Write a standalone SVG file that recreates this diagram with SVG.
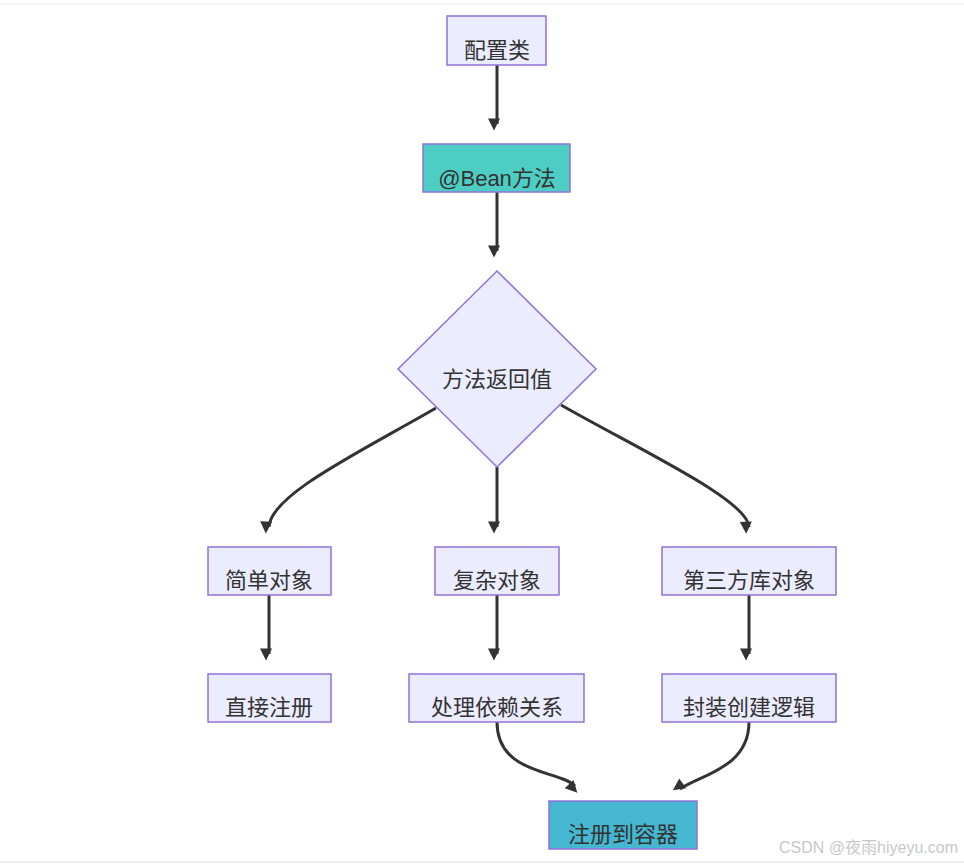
<svg xmlns="http://www.w3.org/2000/svg" width="964" height="864" viewBox="0 0 964 864">
<style>
.n{fill:#ececff;stroke:#9370db;stroke-width:1.5}
.t{font-family:"Liberation Sans","Noto Sans CJK SC",sans-serif;font-size:22px;fill:#333;text-anchor:middle}
.e{fill:none;stroke:#333;stroke-width:3}
</style>
<defs><marker id="a" viewBox="0 0 10 10" refX="9" refY="5" markerWidth="6" markerHeight="6" orient="auto" markerUnits="userSpaceOnUse" overflow="visible"><path d="M0,0L10,5L0,10z" fill="#333" transform="scale(2)" /></marker></defs>
<rect width="964" height="864" fill="#fff"/>
<line x1="0" y1="4" x2="964" y2="4" stroke="#eef0f5" stroke-width="1.5"/>
<line x1="0" y1="862" x2="964" y2="862" stroke="#eef0f5" stroke-width="2"/>
<g id="edges">
<path class="e" d="M497,65V124" marker-end="url(#a)"/>
<path class="e" d="M497,192V251" marker-end="url(#a)"/>
<path class="e" d="M436,408C360,452 270,495 269,527" marker-end="url(#a)"/>
<path class="e" d="M497,467V527" marker-end="url(#a)"/>
<path class="e" d="M561,405C640,450 748,500 749,527" marker-end="url(#a)"/>
<path class="e" d="M269,595V654" marker-end="url(#a)"/>
<path class="e" d="M497,595V654" marker-end="url(#a)"/>
<path class="e" d="M749,595V654" marker-end="url(#a)"/>
<path class="e" d="M497,722C497,775 560,770 575,786" marker-end="url(#a)"/>
<path class="e" d="M749,722C749,768 700,775 680,789" marker-end="url(#a)"/>
</g>
<g id="n1"><rect class="n" x="447" y="16" width="99" height="49"/><text class="t" x="497" y="58">配置类</text></g>
<g id="n2"><rect class="n" x="423" y="144" width="147" height="48" style="fill:#4ecdc4"/><text class="t" x="497" y="186">@Bean方法</text></g>
<g id="n3"><path class="n" d="M497,271L596,369L497,467L398,369z"/><text class="t" x="497" y="387">方法返回值</text></g>
<g id="n4"><rect class="n" x="208" y="547" width="123" height="48"/><text class="t" x="269" y="588">简单对象</text></g>
<g id="n5"><rect class="n" x="435" y="547" width="124" height="48"/><text class="t" x="497" y="588">复杂对象</text></g>
<g id="n6"><rect class="n" x="662" y="547" width="174" height="48"/><text class="t" x="749" y="588">第三方库对象</text></g>
<g id="n7"><rect class="n" x="208" y="674" width="123" height="48"/><text class="t" x="269" y="715">直接注册</text></g>
<g id="n8"><rect class="n" x="409" y="674" width="175" height="48"/><text class="t" x="497" y="715">处理依赖关系</text></g>
<g id="n9"><rect class="n" x="662" y="674" width="174" height="48"/><text class="t" x="749" y="715">封装创建逻辑</text></g>
<g id="n10"><rect class="n" x="549" y="801" width="148" height="48" style="fill:#45b7d1"/><text class="t" x="623" y="842">注册到容器</text></g>
<text x="958" y="853" style="font-family:'Liberation Sans','Noto Sans CJK SC',sans-serif;font-size:16px;fill:#c8c8c8;text-anchor:end">CSDN @夜雨hiyeyu.com</text>
</svg>
